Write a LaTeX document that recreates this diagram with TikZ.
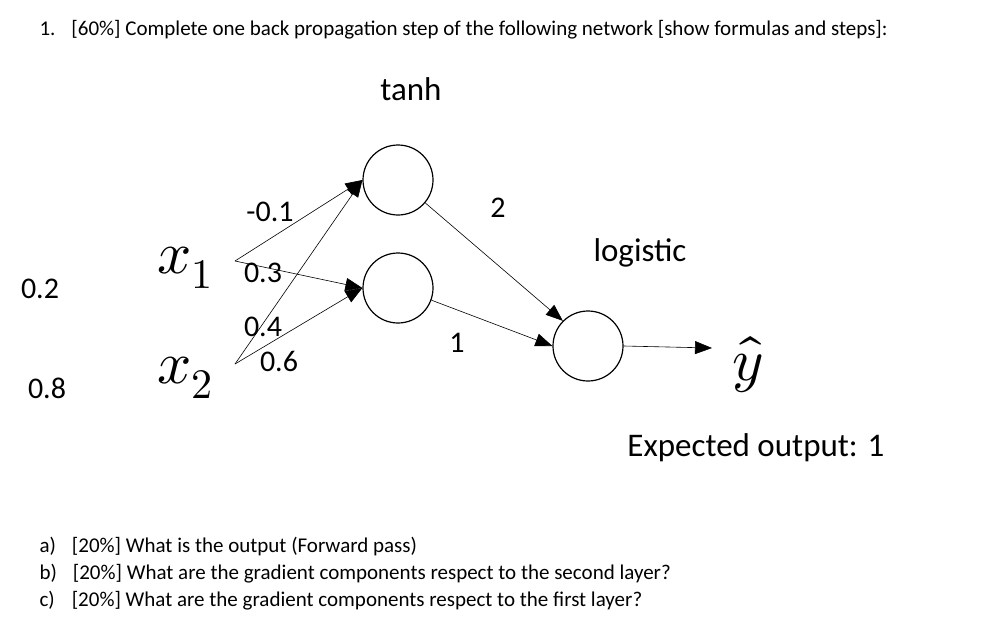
\documentclass[tikz,border=0pt]{standalone}
\usepackage{fontspec}
\usepackage{unicode-math}
\setmainfont{Carlito}
\setmathfont{Latin Modern Math}
\usetikzlibrary{arrows.meta}
\begin{document}
\begin{tikzpicture}[x=1pt,y=-1pt,
 neuron/.style={circle,draw,line width=1.2pt,minimum size=70pt,inner sep=0pt},
 conn/.style={line width=0.6pt,-{Triangle[length=17pt,width=13pt]}},
 w/.style={font=\fontsize{30}{32}\selectfont},
 big/.style={font=\fontsize{33}{36}\selectfont},
 mth/.style={font=\fontsize{60}{60}\selectfont},
 q/.style={font=\fontsize{21}{23}\selectfont,anchor=west}]
\useasboundingbox (0,0) rectangle (994,640);
\node[q] (t0) at (36,30) {1.\hspace{16pt}[60\%] Complete one back propagation step of the following network [show formulas and steps]:};
\node[neuron] (h1) at (398,180) {};
\node[neuron] (h2) at (398,288) {};
\node[neuron] (o) at (588,346) {};
\coordinate (x1) at (235,261);
\coordinate (x2) at (235,364);
\coordinate (yend) at (712,348);
\node[mth] (lx1) at (185,268) {$x_{\scriptstyle 1}$};
\node[mth] (lx2) at (185,378) {$x_{\scriptstyle 2}$};
\node[w] (v1) at (40,289) {0.2};
\node[w] (v2) at (47,388) {0.8};
\draw[conn] (x1) -- (h1.west);
\draw[conn] (x1) -- (h2.west);
\draw[conn] (x2) -- (h1.west);
\draw[conn] (x2) -- (h2.west);
\draw[conn] (h1.-40) -- (o.135);
\draw[conn] (h2.-20) -- (o.west);
\draw[conn] (o.east) -- (yend);
\node[w] (a) at (270,212) {-0.1};
\node[w] (b) at (263,273) {0.3};
\node[w] (c) at (263,327) {0.4};
\node[w] (d) at (279,361) {0.6};
\node[w] (e) at (498,208) {2};
\node[w] (f) at (457,343) {1};
\node[big] (tanh) at (411,89) {tanh};
\node[big] (logi) at (640,253) {logistic};
\node[mth] (yh) at (748,365) {$\hat{y}$};
\node[big] (exp) at (756,448) {Expected output: 1};
\node[q] (qa) at (36,547) {a)\hspace{16pt}[20\%] What is the output (Forward pass)};
\node[q] (qb) at (36,574) {b)\hspace{16pt}[20\%] What are the gradient components respect to the second layer?};
\node[q] (qc) at (36,601) {c)\hspace{17pt}[20\%] What are the gradient components respect to the first layer?};
\end{tikzpicture}
\end{document}
